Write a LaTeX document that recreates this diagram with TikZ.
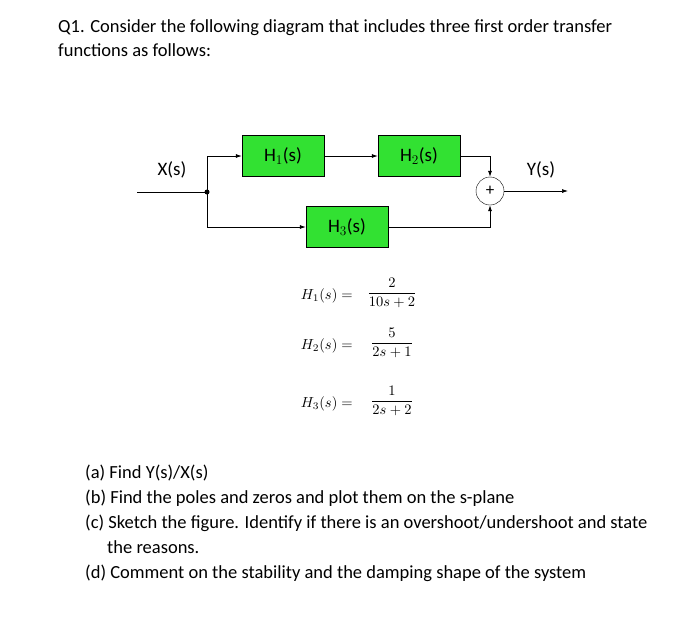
\documentclass[tikz,border=0pt]{standalone}
\usepackage{amsmath}
\usepackage{fix-cm}
\usepackage{fontspec}
\setmainfont{Carlito}
\usetikzlibrary{arrows.meta}
\begin{document}
\begin{tikzpicture}[x=1pt,y=-1pt,
  blk/.style={draw,minimum width=82pt,minimum height=41pt,inner sep=0pt,font=\fontsize{19}{22}\selectfont},
  lbl/.style={font=\fontsize{19}{22}\selectfont},
  txt/.style={anchor=base west,inner sep=0pt,font=\fontsize{18.5}{22}\selectfont},
  eq/.style={inner sep=0pt,scale=1.45},
  sig/.style={-{Latex[length=6pt,width=4pt]},line width=0.7pt}]
\useasboundingbox (0,0) rectangle (700,622);
\definecolor{bg}{RGB}{50,225,50}
\node[txt] (t1) at (58,32) {Q1. Consider the following diagram that includes three first order transfer};
\node[txt] (t2) at (58,56) {functions as follows:};
\node[blk,fill=bg] (h1) at (283,156) {H$_1$(s)};
\node[blk,fill=bg] (h2) at (419,156) {H$_2$(s)};
\node[blk,fill=bg] (h3) at (347,227) {H$_3$(s)};
\node[lbl] (x) at (172,170) {X(s)};
\node[lbl] (y) at (541,170) {Y(s)};
\node[draw,circle,minimum size=28pt,inner sep=0pt,font=\fontsize{17}{20}\selectfont] (sum) at (490,191) {+};
\coordinate (in) at (137,192);
\coordinate (j) at (207,192);
\coordinate (out) at (568,191);
\fill (j) circle (2.5pt);
\draw[line width=0.7pt] (in) -- (j);
\draw[sig] (j) |- (h1.west);
\draw[sig] (j) |- (h3.west);
\draw[sig] (h1) -- (h2);
\draw[sig] (h2.east) -| (sum.north);
\draw[sig] (h3.east) -| (sum.south);
\draw[sig] (sum) -- (out);
\node[eq,anchor=east] (e1) at (353,296) {$H_1(s) =$};
\node[eq] (f1) at (392,293) {$\dfrac{2}{10s+2}$};
\node[eq,anchor=east] (e2) at (353,346) {$H_2(s) =$};
\node[eq] (f2) at (392,343) {$\dfrac{5}{2s+1}$};
\node[eq,anchor=east] (e3) at (353,404) {$H_3(s) =$};
\node[eq] (f3) at (392,401) {$\dfrac{1}{2s+2}$};
\node[txt] (a) at (85,478) {(a) Find Y(s)/X(s)};
\node[txt] (b) at (85,503) {(b) Find the poles and zeros and plot them on the s-plane};
\node[txt] (c) at (85,528) {(c) Sketch the figure. Identify if there is an overshoot/undershoot and state};
\node[txt] (c2) at (107,553) {the reasons.};
\node[txt] (d) at (85,578) {(d) Comment on the stability and the damping shape of the system};
\end{tikzpicture}
\end{document}
